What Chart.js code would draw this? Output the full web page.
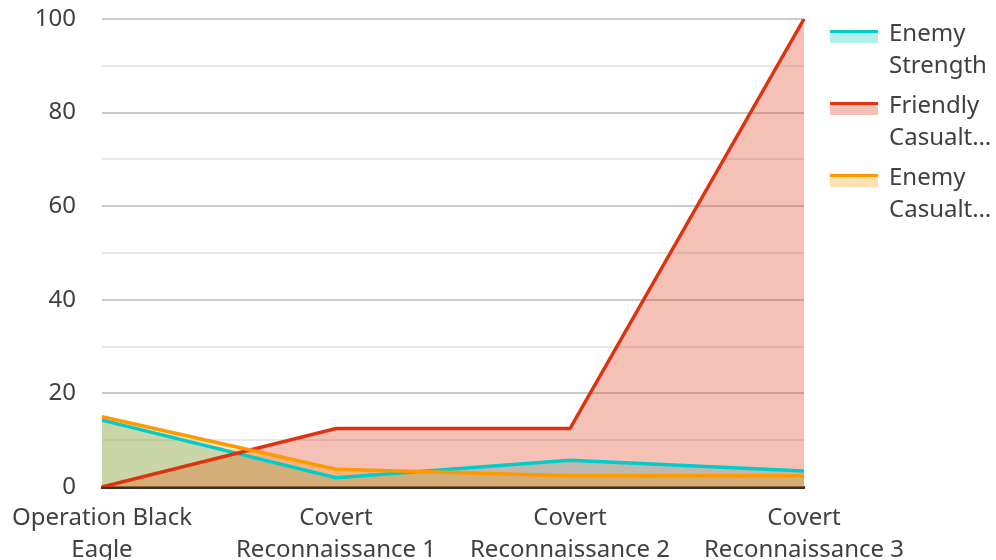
<!DOCTYPE html>
<html>
<head>
<meta charset="utf-8">
<script src="https://cdn.jsdelivr.net/npm/chart.js@4"></script>
<style>
  body { margin: 0; background: #fff; }
  #wrap { position: relative; width: 996px; height: 560px; }
  #legend { position: absolute; left: 830px; top: 16px; font: 24px "Noto Sans"; color: #404040; }
  .item { display: flex; margin-bottom: 8px; }
  .swatch { width: 48px; height: 10px; border-top: 3px solid; margin-top: 14px; margin-right: 11px; }
  .txt { line-height: 32px; white-space: nowrap; }
</style>
</head>
<body>
<div id="wrap">
  <canvas id="myChart" width="996" height="560"></canvas>
  <div id="legend"></div>
</div>
<script>
// categories, one array of lines per tick label
const categories = [
  ["Operation Black", "Eagle"],
  ["Covert", "Reconnaissance 1"],
  ["Covert", "Reconnaissance 2"],
  ["Covert", "Reconnaissance 3"]
];
const seriesNames = ["Enemy Strength", "Friendly Casualties", "Enemy Casualties"];
const enemyStrength = [14.3, 2, 5.7, 3.4];
const friendlyCasualties = [0, 12.5, 12.5, 100];
const enemyCasualties = [15, 3.8, 2.4, 2.4];
const yTicks = [0, 20, 40, 60, 80, 100];

const lineColors = ["#00cccc", "#dd3311", "#ff9900"];
const fillColors = ["rgba(0,204,204,0.3)", "rgba(221,51,17,0.3)", "rgba(255,153,0,0.3)"];
const allSeries = [enemyStrength, friendlyCasualties, enemyCasualties];

const font = { family: "Noto Sans", size: 24 };

new Chart("myChart", {
  type: "line",
  data: {
    labels: categories,
    datasets: allSeries.map((vals, i) => ({
      label: seriesNames[i],
      data: vals,
      borderColor: lineColors[i],
      backgroundColor: fillColors[i],
      borderWidth: 3.5,
      fill: "origin",
      tension: 0,
      pointRadius: 0,
      order: allSeries.length - i // later series drawn on top
    }))
  },
  options: {
    responsive: false,
    animation: false,
    layout: { padding: { top: 19, right: 192, left: 0, bottom: 0 } },
    plugins: {
      legend: { display: false },
      tooltip: { enabled: false },
      filler: { drawTime: "beforeDatasetsDraw" } // all fills under all lines
    },
    scales: {
      x: {
        offset: false,
        // ticks.padding also pads the layout, so the gap is made with invisible tick marks
        grid: { color: "transparent", tickColor: "transparent", drawTicks: true, tickLength: 12 },
        border: { display: true, color: "#333", width: 3 },
        ticks: { font: { ...font, lineHeight: 1.33 }, color: "#404040", padding: 3, maxRotation: 0, autoSkip: false },
        afterFit: s => { s.height = 73; }
      },
      y: {
        min: 0,
        max: 100,
        grid: {
          drawTicks: true,
          tickLength: 23,
          tickColor: "transparent",
          lineWidth: 2,
          color: c => (yTicks.includes(c.tick.value) ? "#cccccc" : "#e8e8e8")
        },
        border: { display: false },
        ticks: {
          stepSize: 10,
          font: font,
          color: "#404040",
          padding: 3,
          callback: v => (yTicks.includes(v) ? v : "")
        },
        afterFit: s => { s.width = 102; }
      }
    }
  }
});

// legend on the right, wrapped and cut like the reference
const legend = document.getElementById("legend");
const measure = document.createElement("canvas").getContext("2d");
measure.font = '24px "Noto Sans"';
const maxW = 106;

function fitLines(text) {
  const words = text.split(" ");
  return words.slice(0, 2).map((w, i) => {
    let line = i === 1 ? words.slice(1).join(" ") : w;
    if (measure.measureText(line).width <= maxW) return line;
    while (line.length > 1 && measure.measureText(line + "…").width > maxW) line = line.slice(0, -1);
    return line + "…";
  });
}

seriesNames.forEach((name, i) => {
  const item = document.createElement("div");
  item.className = "item";
  const sw = document.createElement("div");
  sw.className = "swatch";
  sw.style.borderTopColor = lineColors[i];
  sw.style.background = fillColors[i];
  const txt = document.createElement("div");
  txt.className = "txt";
  txt.innerHTML = fitLines(name).join("<br>");
  item.append(sw, txt);
  legend.append(item);
});
</script>
</body>
</html>
